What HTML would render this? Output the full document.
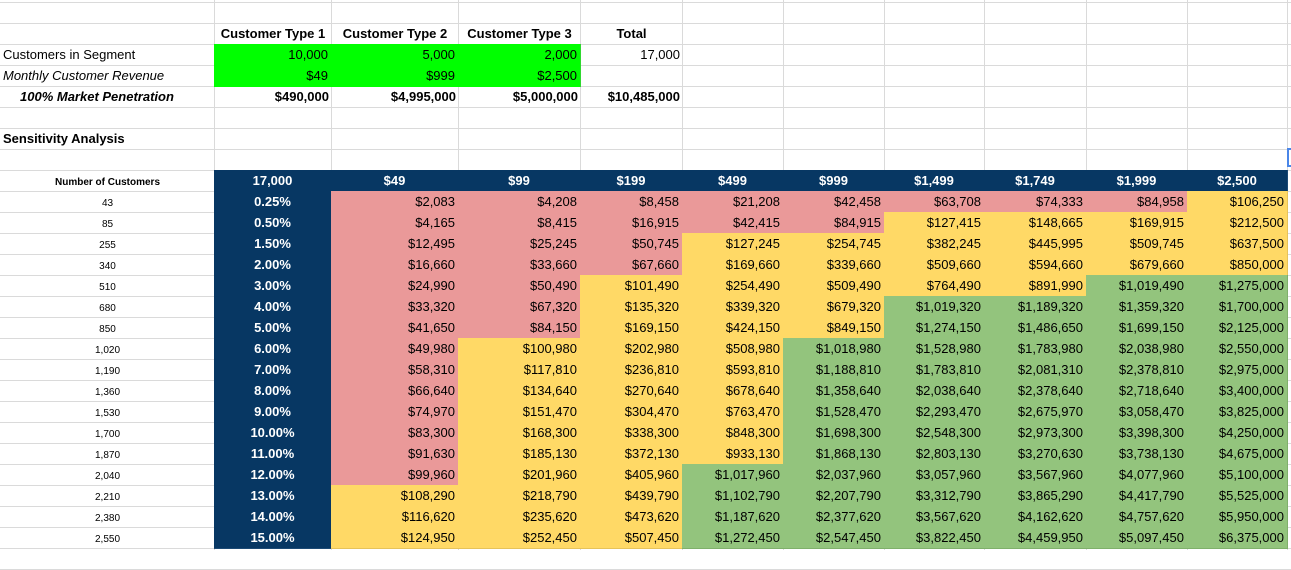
<!DOCTYPE html>
<html><head><meta charset="utf-8"><style>
body{margin:0;width:1291px;height:550px;overflow:hidden;background:#fff;font-family:"Liberation Sans",Arial,sans-serif;position:relative}
.c{position:absolute;box-sizing:border-box;font-size:13px;line-height:21px;white-space:nowrap;overflow:hidden;padding:0 3px;color:#000}
.g{position:absolute;background:#dadada}
.r{text-align:right}.m{text-align:center}.b{font-weight:bold}
.nv{background:#073763;color:#fff;font-weight:bold;text-align:center;border-right:1px solid #1c4a75;border-bottom:1px solid #1c4a75}
</style></head><body>
<div id="grid"></div>
<script>
const colX=[0,214,331,458,580,682,783,884,984,1086,1187,1287];
const rowTop=1.5, rowH=21;
const typeHeaders=["Customer Type 1","Customer Type 2","Customer Type 3"];
const segCustomers=["10,000","5,000","2,000"];
const segRevenue=["$49","$999","$2,500"];
const segPenetration=["$490,000","$4,995,000","$5,000,000"];
const totalCustomers=17000;
const prices=[49,99,199,499,999,1499,1749,1999,2500];
const pcts=[0.25,0.5,1.5,2,3,4,5,6,7,8,9,10,11,12,13,14,15];
const custCounts=["43","85","255","340","510","680","850","1,020","1,190","1,360","1,530","1,700","1,870","2,040","2,210","2,380","2,550"];
const G=document.getElementById('grid');
function fmt(n){return Math.round(n).toLocaleString('en-US');}
function cell(ci,ri,text,cls,style,name,span){
  const d=document.createElement('div');
  d.className='c '+(cls||'');
  const x0=colX[ci],x1=colX[ci+(span||1)];
  d.style.left=x0+'px';d.style.width=(x1-x0+1)+'px';
  d.style.top=(rowTop+ri*rowH)+'px';d.style.height=(rowH+1)+'px';
  if(style)d.style.cssText+=style;
  d.textContent=text;
  
  
  G.appendChild(d);return d;
}
for(let r=0;r<=27;r++){const l=document.createElement('div');l.className='g';l.style.left='0px';l.style.width='1291px';l.style.top=Math.round(rowTop+r*rowH)+'px';l.style.height='1px';


G.appendChild(l);}
for(let c=1;c<colX.length;c++){const l=document.createElement('div');l.className='g';l.style.left=colX[c]+'px';l.style.width='1px';l.style.top='0px';l.style.height='550px';


G.appendChild(l);}
typeHeaders.forEach((t,i)=>cell(i+1,1,t,'m b','','customer-type-header'));
cell(4,1,'Total','m b','','total-header');
cell(0,2,'Customers in Segment','','','customers-label');
cell(0,3,'Monthly Customer Revenue','','font-style:italic;','revenue-label');
cell(0,4,'100% Market Penetration','b','font-style:italic;padding-left:20px;','penetration-label');
segCustomers.forEach((t,i)=>cell(i+1,2,t,'r','background:#00ff00;border-right:1px solid #2fd82f;','segment-customers-input'));
segRevenue.forEach((t,i)=>cell(i+1,3,t,'r','background:#00ff00;border-right:1px solid #2fd82f;','segment-revenue-input'));
segPenetration.forEach((t,i)=>cell(i+1,4,t,'r b','','segment-penetration-value'));
cell(4,2,'17,000','r','','total-customers');
cell(4,4,'$10,485,000','r b','','total-penetration');
cell(0,6,'Sensitivity Analysis','b','','sensitivity-title');
cell(0,8,'Number of Customers','m b','font-size:10px;padding-top:2px;','customers-column-header');
cell(1,8,fmt(totalCustomers),'nv','','total-customers-header');
prices.forEach((p,i)=>cell(i+2,8,'$'+fmt(p),'nv','','price-header'));
pcts.forEach((p,r)=>{
  cell(0,9+r,custCounts[r],'m','font-size:10px;padding-top:2px;','customer-count');
  cell(1,9+r,p.toFixed(2)+'%','nv','','penetration-pct');
  prices.forEach((pr,i)=>{
    const v=totalCustomers*p/100*pr;
    let bg='#ea9999',bd='#d38a8a';
    if(v>=1000000){bg='#93c47d';bd='#7fb06b';}else if(v>=100000){bg='#ffd966';bd='#e6c35a';}
    cell(i+2,9+r,'$'+fmt(v),'r','background:'+bg+';border-right:1px solid '+bd+';border-bottom:1px solid '+bd+';','revenue-cell');
  });
});
const s=document.createElement('div');
s.style.cssText='position:absolute;left:1287px;top:148px;width:4px;height:19px;border-left:2px solid #4a86e8;border-top:2px solid #4a86e8;border-bottom:2px solid #4a86e8;box-sizing:border-box';


G.appendChild(s);
</script>
</body></html>
